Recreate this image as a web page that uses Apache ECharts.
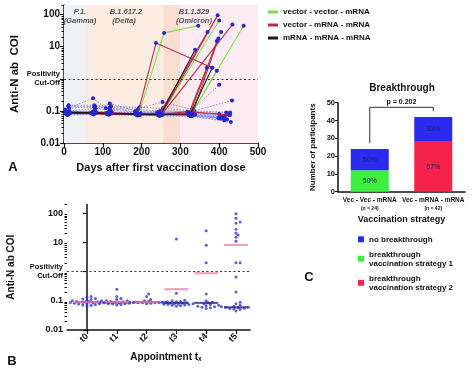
<!DOCTYPE html>
<html><head><meta charset="utf-8">
<script src="https://cdn.jsdelivr.net/npm/echarts@6/dist/echarts.min.js"></script>
<style>html,body{margin:0;padding:0;background:#fff}#c{width:474px;height:369px}</style>
</head><body><div id="c"></div>
<script>
// ---------------- DATA ----------------
// Panel A: participant trajectories [day, anti-N COI]
const nonBreakTraj = [
  [[5,0.09],[72,0.088],[110,0.085],[185,0.08],[242,0.078],[322,0.075],[405,0.065]],
  [[8,0.085],[75,0.09],[113,0.088],[188,0.082],[245,0.08],[325,0.072],[410,0.06]],
  [[10,0.095],[77,0.1],[116,0.092],[190,0.085],[247,0.082],[328,0.08],[415,0.07]],
  [[12,0.08],[79,0.082],[118,0.08],[192,0.078],[249,0.075],[330,0.07],[420,0.055]],
  [[14,0.1],[81,0.12],[120,0.105],[194,0.09],[251,0.088],[332,0.085],[425,0.075]],
  [[3,0.11],[75,0.25],[108,0.12],[183,0.095],[240,0.09],[320,0.088],[400,0.08]],
  [[6,0.088],[74,0.092],[118,0.17],[186,0.1],[244,0.095],[324,0.09],[408,0.065]],
  [[9,0.075],[76,0.078],[115,0.076],[189,0.072],[246,0.07],[327,0.068],[413,0.05]],
  [[11,0.14],[78,0.13],[117,0.12],[191,0.11],[248,0.1],[329,0.095],[418,0.09]],
  [[13,0.12],[80,0.14],[119,0.13],[193,0.12],[254,0.19],[331,0.11],[400,0.65]],
  [[15,0.09],[82,0.095],[122,0.09],[196,0.088],[253,0.085],[334,0.1],[433,0.21]],
  [[4,0.082],[71,0.085],[109,0.083],[184,0.08],[241,0.076],[321,0.074],[402,0.058]],
  [[7,0.092],[73,0.09],[111,0.087],[187,0.083],[243,0.08],[323,0.077],[406,0.062]],
  [[10,0.078],[76,0.08],[114,0.079],[190,0.075],[246,0.073],[326,0.07],[430,0.045]],
  [[12,0.15],[78,0.15],[121,0.14],[195,0.13],[255,0.12],[336,0.1],[428,0.09]],
  [[16,0.086],[83,0.087],[124,0.086],[198,0.082],[256,0.079],[338,0.076],[398,0.06]]
];
const greenTraj = [
  [[12,0.085],[78,0.09],[118,0.085],[192,0.075],[258,27],[346,45]],
  [[8,0.09],[72,0.088],[112,0.082],[188,0.078],[248,0.08],[328,0.08],[463,45]],
  [[10,0.088],[76,0.085],[115,0.08],[195,0.075],[250,0.078],[400,66]],
  [[14,0.09],[80,0.086],[120,0.082],[190,0.076],[252,0.075],[330,0.085],[394,1.8]],
  [[6,0.087],[74,0.084],[110,0.083],[186,0.08],[246,0.08],[322,0.08],[405,29]]
];
const redTraj = [
  [[10,0.09],[75,0.088],[115,0.085],[190,0.08],[237,13],[382,2.2]],
  [[5,0.088],[72,0.085],[112,0.083],[187,0.08],[250,0.075],[396,95]],
  [[9,0.086],[77,0.084],[117,0.08],[191,0.077],[252,0.078],[434,49]],
  [[11,0.092],[79,0.09],[119,0.087],[193,0.082],[248,0.08],[325,0.082],[394,15]],
  [[7,0.084],[73,0.082],[113,0.08],[188,0.076],[244,0.074],[322,0.085],[368,2.2]],
  [[13,0.09],[81,0.088],[121,0.084],[194,0.08],[251,0.078],[330,0.075],[398,18]],
  [[4,0.087],[70,0.085],[110,0.082],[185,0.078],[246,0.08],[370,29]],
  [[12,0.085],[76,0.083],[116,0.081],[190,0.078],[245,0.076],[318,0.095],[428,0.075]]
];
const blackTraj = [
  [[8,0.088],[74,0.086],[114,0.082],[189,0.079],[250,0.08],[338,8]],
  [[10,0.09],[78,0.087],[118,0.085],[192,0.08],[247,0.078],[326,0.08],[382,2.2]]
];
const strategyNames = ['vector - vector - mRNA','vector - mRNA - mRNA','mRNA - mRNA - mRNA'];
const variantPeriods = [[0,57],[57,256],[256,299],[299,500]];
const variantNames = [['P.1.','(Gamma)'],['B.1.617.2','(Delta)'],['B1.1.529','(Omicron)']];
const cutOff = 1;
const logTickValues = [0.01,0.1,1,10,100];
const logTickLabels = ['0.01','0.1','CUT','10','100'];
const xTicksA = [0,100,200,300,400,500];

// Panel B: values per appointment
const appointments = ['t0','t1','t2','t3','t4','t5'];
const apptValues = [
  [0.065,0.07,0.072,0.075,0.078,0.08,0.08,0.082,0.085,0.085,0.088,0.088,0.09,0.09,0.09,0.092,0.092,0.095,0.095,0.1,0.1,0.105,0.11,0.115,0.12,0.13,0.14],
  [0.072,0.075,0.078,0.08,0.08,0.082,0.085,0.085,0.088,0.088,0.09,0.09,0.092,0.095,0.1,0.1,0.11,0.12,0.14,0.25],
  [0.08,0.082,0.085,0.086,0.088,0.088,0.09,0.09,0.09,0.092,0.095,0.1,0.11,0.14,0.17],
  [0.065,0.068,0.07,0.072,0.074,0.075,0.076,0.078,0.08,0.08,0.082,0.084,0.085,0.088,0.09,0.092,0.095,0.1,0.105,0.18,13],
  [0.055,0.058,0.06,0.062,0.065,0.068,0.07,0.075,0.08,0.085,0.09,0.1,0.17,2,8,25],
  [0.045,0.05,0.052,0.055,0.056,0.058,0.06,0.06,0.062,0.065,0.07,0.08,0.09,0.2,0.65,2,2,11,15,18,21,28,45,50,67,95]
];
const medianNoBreak = [0.09,0.088,0.09,0.085,0.085,0.06];
const medianBreak = [0.09,0.09,0.09,0.25,0.88,8.2];

// Panel C: stacked counts
const strategies = ['Vec - Vec - mRNA','Vec - mRNA - mRNA'];
const nCounts = [24, 42];
const noBreakCounts = [12, 14];
const break1Counts = [12, '-'];
const break2Counts = ['-', 28];
const pValue = 'p = 0.202';

// ---------------- CHART ----------------
const F = 'Liberation Sans';
const BLUE = '#2626cc';
const chart = echarts.init(document.getElementById('c'), null, {renderer:'canvas'});

function logFmt(v){
  const i = logTickValues.findIndex(t => Math.abs(Math.log10(t) - Math.log10(v)) < 1e-6);
  if (i < 0) return '';
  if (logTickLabels[i] === 'CUT') return '{p|Positivity}\n{p|Cut-Off}';
  return logTickLabels[i];
}
const minorVals = [];
for (let d = -2; d < 3; d++) for (let k = 2; k <= 9; k++) { const v = k*Math.pow(10,d); if (v <= 200) minorVals.push(+v.toPrecision(3)); }

const axisLine = {show:true, lineStyle:{color:'#111', width:1.5}};
const boldTxt = (s) => ({fontFamily:F, fontWeight:'bold', fontSize:s, color:'#111'});

function logYAxis(grid, fs, pfs, name, nameGap, nfs){
  return {
    gridIndex:grid, type:'log', logBase:10, min:0.01, max:200, position:'left',
    axisLine, splitLine:{show:false},
    axisTick:{show:true, length:4, customValues:logTickValues, lineStyle:{color:'#111', width:1.2}},
    axisLabel:Object.assign(boldTxt(fs), {customValues:logTickValues, formatter:logFmt, margin:4,
      rich:{p:{fontFamily:F, fontWeight:'bold', fontSize:pfs, lineHeight:pfs+1.5, color:'#111', align:'right'}}}),
    name, nameLocation:'middle', nameGap, nameTextStyle:boldTxt(nfs)
  };
}
function minorYAxis(grid){
  return {gridIndex:grid, type:'log', logBase:10, min:0.01, max:200, position:'left', offset:0,
    axisLine:{show:false},
    axisTick:{show:true, length:2.5, customValues:minorVals, lineStyle:{color:'#111', width:1}},
    axisLabel:{show:false}, splitLine:{show:false}};
}

const series = [];
const bgColors = ['#eef2f5','#fcebe0','#f9ddd0','#fcebf1'];
series.push({
  type:'line', xAxisIndex:0, yAxisIndex:0, data:[], silent:true, z:0,
  markArea:{silent:true, data: variantPeriods.map((p,i)=>[{xAxis:p[0], itemStyle:{color:bgColors[i]}},{xAxis:p[1]}])},
  markLine:{silent:true, symbol:'none', label:{show:false}, lineStyle:{color:'#333', type:[2,2.5], width:1.2}, data:[{yAxis:cutOff}]}
});
nonBreakTraj.forEach(t => series.push({
  type:'line', xAxisIndex:0, yAxisIndex:0, data:t, symbol:'circle', symbolSize:4, z:3,
  lineStyle:{color:'#8d8de8', width:1, type:[1.5,1.5]}, itemStyle:{color:BLUE}, silent:true
}));
const lineColors = ['#7ddf4a','#be2a48','#1a1a1a'];
[greenTraj, redTraj, blackTraj].forEach((grp,gi) => grp.forEach(t => series.push({
  name:strategyNames[gi], type:'line', xAxisIndex:0, yAxisIndex:0, data:t, symbol:'circle', symbolSize:4, z:4,
  lineStyle:{color:lineColors[gi], width:1.1}, itemStyle:{color:BLUE}, silent:true
})));

// Panel B
series.push({
  type:'line', xAxisIndex:1, yAxisIndex:2, data:[], silent:true,
  markLine:{silent:true, symbol:'none', label:{show:false}, lineStyle:{color:'#333', type:[2,2.5], width:1.2}, data:[{yAxis:cutOff}]}
});
function swarm(vals, cat){
  const pxDec = 29.2, pxCat = 29.8, r = 2.6;
  const placed = [], out = [];
  vals.slice().sort((a,b)=>a-b).forEach(v => {
    const y = Math.log10(v)*pxDec;
    let off = 0;
    for (let i = 0; i < 80; i++) {
      off = (i === 0 ? 0 : (i%2 ? 1 : -1)*Math.ceil(i/2))*r*0.8;
      if (placed.every(p => Math.hypot(p[0]-off, p[1]-y) >= r)) break;
    }
    placed.push([off,y]);
    out.push([cat + off/pxCat, v]);
  });
  return out;
}
series.push({
  type:'scatter', xAxisIndex:1, yAxisIndex:2, symbolSize:3, itemStyle:{color:'#3434d6'}, silent:true,
  data: apptValues.flatMap((vals,i)=>swarm(vals,i))
});
series.push({
  type:'scatter', xAxisIndex:1, yAxisIndex:2, symbol:'rect', symbolSize:[24,2], itemStyle:{color:'#23237a'}, silent:true, z:5,
  data: medianNoBreak.map((m,i)=>[i,m])
});
series.push({
  type:'scatter', xAxisIndex:1, yAxisIndex:2, symbol:'rect', symbolSize:[24,2], itemStyle:{color:'#ef7fab'}, silent:true, z:6,
  data: medianBreak.map((m,i)=>[i,m])
});

// Panel C
const pctLabel = (p) => Math.round(p.value / nCounts[p.dataIndex] * 100) + '%';
const barLabel = {show:true, position:'inside', formatter:pctLabel, fontFamily:F, fontSize:7, color:'#1c1c66'};
series.push({name:'breakthrough\nvaccination strategy 1', type:'bar', xAxisIndex:2, yAxisIndex:4, stack:'c', barWidth:38,
  data:break1Counts, itemStyle:{color:'#3ef03e'}, label:barLabel, silent:true});
series.push({name:'breakthrough\nvaccination strategy 2', type:'bar', xAxisIndex:2, yAxisIndex:4, stack:'c', barWidth:38,
  data:break2Counts, itemStyle:{color:'#f5234b'}, label:barLabel, silent:true});
series.push({name:'no breakthrough', type:'bar', xAxisIndex:2, yAxisIndex:4, stack:'c', barWidth:38,
  data:noBreakCounts, itemStyle:{color:'#2a2af0'}, label:barLabel, silent:true});
series.push({type:'line', xAxisIndex:2, yAxisIndex:4, symbol:'none', silent:true, z:5,
  lineStyle:{color:'#333', width:1},
  data:[[strategies[0],27.2],[strategies[0],47.4],[strategies[1],47.4],[strategies[1],45.3]]});

const option = {
  animation:false,
  backgroundColor:'#fff',
  textStyle:{fontFamily:F},
  grid:[
    {left:64, top:5, width:194, height:138, containLabel:false, outerBoundsMode:'none'},
    {left:67, top:204.4, width:183, height:125.6, containLabel:false, outerBoundsMode:'none'},
    {left:338, top:102.7, width:127, height:89, containLabel:false, outerBoundsMode:'none'}
  ],
  xAxis:[
    {gridIndex:0, type:'value', min:0, max:500, interval:100, axisLine, splitLine:{show:false},
     axisTick:{show:true, length:4, lineStyle:{color:'#111', width:1.2}},
     axisLabel:Object.assign(boldTxt(10), {margin:4}),
     name:'Days after first vaccination dose', nameLocation:'middle', nameGap:19, nameTextStyle:boldTxt(11)},
    {gridIndex:1, type:'value', min:-0.67, max:5.47, axisLine, splitLine:{show:false},
     axisTick:{show:true, length:4, customValues:[0,1,2,3,4,5], lineStyle:{color:'#111', width:1.2}},
     axisLabel:Object.assign(boldTxt(9), {customValues:[0,1,2,3,4,5], rotate:45, margin:5, formatter:(v)=>appointments[Math.round(v)]}),
     name:'{a|Appointment t}{s|x}', nameLocation:'middle', nameGap:21,
     nameTextStyle:Object.assign(boldTxt(10), {padding:[0,0,0,15], rich:{a:boldTxt(10), s:Object.assign(boldTxt(6.5), {padding:[5,0,0,0]})}})},
    {gridIndex:2, type:'category', data:strategies, axisLine, axisTick:{show:false},
     axisLabel:{interval:0, margin:5, formatter:(v,i)=>'{a|'+v+'}\n{b|(n = '+nCounts[i]+')}',
       rich:{a:Object.assign(boldTxt(6.5),{lineHeight:8}), b:Object.assign(boldTxt(5),{lineHeight:7})}},
     name:'Vaccination strategy', nameLocation:'middle', nameGap:23, nameTextStyle:boldTxt(9)}
  ],
  yAxis:[
    logYAxis(0, 10, 7.5, 'Anti-N ab  COI', 43, 11.5),
    minorYAxis(0),
    logYAxis(1, 9, 7.5, 'Anti-N ab COI', 51, 10),
    minorYAxis(1),
    {gridIndex:2, type:'value', min:0, max:50, interval:10, axisLine, splitLine:{show:false},
     axisTick:{show:true, length:3, lineStyle:{color:'#111', width:1}},
     axisLabel:Object.assign(boldTxt(7.5), {margin:3}),
     name:'Number of participants', nameLocation:'middle', nameGap:21, nameTextStyle:boldTxt(8)}
  ],
  legend:[
    {data:strategyNames.map((n,i)=>({name:n, itemStyle:{color:lineColors[i]}})),
     orient:'vertical', left:263, top:2, icon:'rect', itemWidth:10, itemHeight:3, itemGap:3,
     textStyle:Object.assign(boldTxt(8), {lineHeight:10}), selectedMode:false},
    {data:[{name:'no breakthrough', itemStyle:{color:'#2a2af0'}},{name:'breakthrough\nvaccination strategy 1', itemStyle:{color:'#3ef03e'}},{name:'breakthrough\nvaccination strategy 2', itemStyle:{color:'#f5234b'}}],
     orient:'vertical', left:353, top:229.8, icon:'rect', itemWidth:6, itemHeight:6, itemGap:6,
     textStyle:Object.assign(boldTxt(8), {lineHeight:9}), selectedMode:false}
  ],
  series,
  graphic:[]
};
chart.setOption(option);

const gtext = (id, x, y, text, font, fill) => ({id, type:'text', x, y, silent:true, z:100,
  style:{text, x:0, y:0, font, fill:fill||'#111', align:'center', textAlign:'center', verticalAlign:'middle', textVerticalAlign:'middle'}});
const itl = 'italic bold 7.5px "Liberation Sans"';
const g = [];
const vx = [80, 126, 194];
variantNames.forEach((n,i)=>{
  g.push(gtext('v'+i+'a', vx[i], 12, n[0], itl, '#555'));
  g.push(gtext('v'+i+'b', vx[i]-(i===1?2:0), 20.5, n[1], itl, '#555'));
});
g.push(gtext('A', 13, 167, 'A', 'bold 13px "Liberation Sans"'));
g.push(gtext('B', 12, 361, 'B', 'bold 13px "Liberation Sans"'));
g.push(gtext('C', 309, 277, 'C', 'bold 13px "Liberation Sans"'));
g.push(gtext('title', 402, 88, 'Breakthrough', 'bold 10px "Liberation Sans"'));
const p0 = chart.convertToPixel({xAxisIndex:2, yAxisIndex:4}, [strategies[0], 47.4]);
const p1 = chart.convertToPixel({xAxisIndex:2, yAxisIndex:4}, [strategies[1], 47.4]);
g.push(gtext('pv', (p0[0]+p1[0])/2, p0[1]-5.5, pValue, 'bold 7px "Liberation Sans"'));
chart.setOption({graphic:g});
</script></body></html>
